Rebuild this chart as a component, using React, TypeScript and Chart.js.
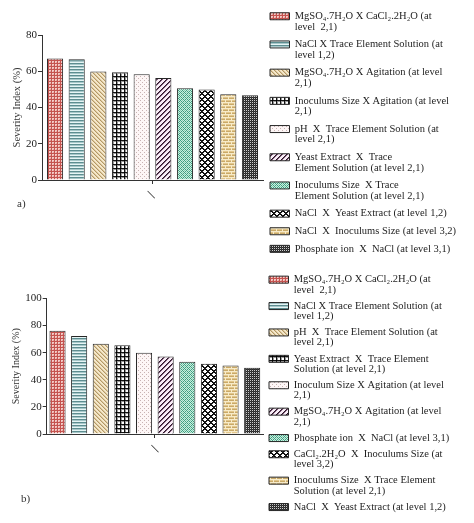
import React, { useEffect, useRef } from 'react';
import { Chart, registerables } from 'chart.js';

Chart.register(...registerables);

// ---------- data ----------
const categoryLabels = ['—'];
const yTitle = 'Severity Index (%)';
const yTicksStep = 20;

const valuesA = [67.1, 66.6, 59.8, 59.4, 58.3, 56.3, 50.6, 50.0, 47.3, 46.7];
const legendA = [
  ['MgSO₄.7H₂O X CaCl₂.2H₂O (at', 'level  2,1)'],
  ['NaCl X Trace Element Solution (at', 'level 1,2)'],
  ['MgSO₄.7H₂O X Agitation (at level', '2,1)'],
  ['Inoculums Size X Agitation (at level', '2,1)'],
  ['pH  X  Trace Element Solution (at', 'level 2,1)'],
  ['Yeast Extract  X  Trace', 'Element Solution (at level 2,1)'],
  ['Inoculums Size  X Trace', 'Element Solution (at level 2,1)'],
  ['NaCl  X  Yeast Extract (at level 1,2)'],
  ['NaCl  X  Inoculums Size (at level 3,2)'],
  ['Phosphate ion  X  NaCl (at level 3,1)'],
];
const yMaxA = 80;

const valuesB = [76.1, 72.3, 66.5, 65.4, 59.9, 57.2, 53.3, 51.8, 50.6, 48.9];
const legendB = [
  ['MgSO₄.7H₂O X CaCl₂.2H₂O (at', 'level  2,1)'],
  ['NaCl X Trace Element Solution (at', 'level 1,2)'],
  ['pH  X  Trace Element Solution (at', 'level 2,1)'],
  ['Yeast Extract  X  Trace Element', 'Solution (at level 2,1)'],
  ['Inoculum Size X Agitation (at level', '2,1)'],
  ['MgSO₄.7H₂O X Agitation (at level', '2,1)'],
  ['Phosphate ion  X  NaCl (at level 3,1)'],
  ['CaCl₂.2H₂O  X  Inoculums Size (at', 'level 3,2)'],
  ['Inoculums Size  X Trace Element', 'Solution (at level 2,1)'],
  ['NaCl  X  Yeast Extract (at level 1,2)'],
];
const yMaxB = 100;

const patternKinds = ['redGrid', 'tealH', 'tanDiag', 'grid', 'dots', 'diagThick', 'green', 'diamond', 'brick', 'dark'];

// ---------- patterns ----------
function makePattern(kind: string): CanvasPattern | string {
  const c = document.createElement('canvas');
  let size = 4;
  const draw: Array<[number, number, string]> = [];
  let bg = '#ffffff';
  const setPx = (x: number, y: number, col: string) => draw.push([x, y, col]);
  switch (kind) {
    case 'redGrid':
      size = 3; bg = '#f3cbc7';
      for (let i = 0; i < 3; i++) { setPx(0, i, '#c4534f'); setPx(i, 0, '#c4534f'); }
      setPx(2, 2, '#e6a09c');
      break;
    case 'tealH':
      size = 3; bg = '#e6f5f5';
      for (let i = 0; i < 3; i++) { setPx(i, 0, '#5d8d90'); setPx(i, 1, '#a7c7c9'); }
      break;
    case 'tanDiag':
      size = 4; bg = '#f5e8cb';
      for (let y = 0; y < 4; y++) for (let x = 0; x < 4; x++) {
        const d = (x - y + 8) % 4;
        if (d === 0) setPx(x, y, '#b39866');
        else if (d === 1) setPx(x, y, '#dcc89e');
      }
      break;
    case 'grid':
      size = 4; bg = '#ffffff';
      for (let i = 0; i < 4; i++) { setPx(0, i, '#111'); setPx(i, 0, '#111'); setPx(1, i, '#9a9a9a'); setPx(i, 1, '#9a9a9a'); }
      setPx(0, 0, '#000'); setPx(1, 0, '#111'); setPx(0, 1, '#111');
      break;
    case 'dots':
      size = 4; bg = '#fdf6f6';
      setPx(0, 0, '#c8b2b2'); setPx(2, 2, '#c8b2b2');
      break;
    case 'diagThick':
      size = 5; bg = '#f9edf7';
      for (let y = 0; y < 5; y++) for (let x = 0; x < 5; x++) {
        const d = (x + y) % 5;
        if (d === 0) setPx(x, y, '#2b1628');
        else if (d === 1) setPx(x, y, '#7a5873');
      }
      break;
    case 'green':
      size = 4; bg = '#c9eee0';
      for (let y = 0; y < 4; y++) for (let x = 0; x < 4; x++) {
        if ((x + y) % 4 === 0 || (x - y + 8) % 4 === 0) setPx(x, y, '#3f9e80');
        else if ((x + y) % 2 === 0) setPx(x, y, '#86cbb0');
      }
      break;
    case 'diamond':
      size = 6; bg = '#ffffff';
      for (let y = 0; y < 6; y++) for (let x = 0; x < 6; x++) {
        const a = (x + y) % 6; const b = (x - y + 12) % 6;
        if (a === 0 || b === 0) setPx(x, y, '#000');
        else if (a === 1 || b === 1) setPx(x, y, '#262626');
      }
      break;
    case 'brick':
      size = 6; bg = '#e2c68b';
      for (let x = 0; x < 6; x++) { setPx(x, 0, '#f7ebc9'); setPx(x, 3, '#f7ebc9'); setPx(x, 2, '#c9a968'); setPx(x, 5, '#c9a968'); }
      setPx(0, 1, '#f7ebc9'); setPx(0, 2, '#f7ebc9'); setPx(3, 4, '#f7ebc9'); setPx(3, 5, '#f7ebc9');
      break;
    case 'dark':
      size = 2; bg = '#2a2a2a';
      setPx(0, 0, '#cdcdcd'); setPx(1, 1, '#3c3c3c');
      break;
  }
  c.width = size; c.height = size;
  const ctx = c.getContext('2d');
  if (!ctx) return bg;
  ctx.fillStyle = bg;
  ctx.fillRect(0, 0, size, size);
  for (const [x, y, col] of draw) { ctx.fillStyle = col; ctx.fillRect(x, y, 1, 1); }
  const p = ctx.createPattern(c, 'repeat');
  return p || bg;
}

// ---------- panel ----------
type PanelProps = {
  top: number;
  height: number;
  values: number[];
  legend: string[][];
  yMax: number;
  padTop: number;
  titleBottom: number;
  yWidth: number;
  xHeight: number;
  catPct: number;
  labelOffset: number;
  legendLine: number;
  legendPad: number;
  yTitleSize: number;
};

const FONT = 'Liberation Serif';

function Panel(props: PanelProps) {
  const ref = useRef<HTMLCanvasElement | null>(null);
  useEffect(() => {
    if (!ref.current) return;
    const legendWidth = 211;
    const legendWidthPlugin = {
      id: 'legendWidthFix',
      beforeInit(chart: any) {
        const lg = chart.legend;
        if (!lg) return;
        const orig = lg.fit;
        lg.fit = function () {
          orig.call(this);
          this.width = legendWidth;
        };
      },
    };
    const patterns = patternKinds.map(makePattern);
    const { legend } = props;
    const chart = new Chart(ref.current, {
      type: 'bar',
      data: {
        labels: categoryLabels,
        datasets: props.values.map((v, i) => ({
          label: legend[i].join(' '),
          data: [v],
          backgroundColor: patterns[i] as any,
          borderColor: '#262626',
          borderWidth: 1,
          barPercentage: 0.745,
          categoryPercentage: props.catPct,
        })),
      },
      options: {
        responsive: false,
        animation: false,
        events: [],
        layout: { padding: { top: props.padTop, left: 0, right: 0, bottom: 0 } },
        plugins: {
          title: {
            display: true,
            text: '',
            fullSize: false,
            padding: { top: 0, bottom: props.titleBottom },
            font: { size: 10, lineHeight: 1.2 },
          },
          tooltip: { enabled: false },
          legend: {
            position: 'right',
            align: 'start',
            labels: {
              boxWidth: 19.5,
              boxHeight: 7,
              padding: props.legendPad,
              color: '#1e1e1e',
              font: { family: FONT, size: 10.5, lineHeight: props.legendLine / 10.5 },
              generateLabels: (ch: any) =>
                (Chart.defaults.plugins.legend.labels.generateLabels as any)(ch).map((it: any, i: number) => ({
                  ...it,
                  text: legend[i],
                })),
            },
          },
        },
        scales: {
          x: {
            grid: {
              display: true,
              drawOnChartArea: false,
              drawTicks: true,
              tickLength: 4,
              offset: false,
              color: '#333',
            },
            border: { display: true, color: '#333', width: 1 },
            ticks: {
              minRotation: -45,
              maxRotation: -45,
              padding: 9.8,
              labelOffset: props.labelOffset,
              color: '#222',
              font: { family: FONT, size: 10, weight: 'bold', lineHeight: 1.2 },
            },
            afterFit: (s: any) => {
              s.height = props.xHeight;
            },
          },
          y: {
            min: 0,
            max: props.yMax,
            ticks: {
              stepSize: yTicksStep,
              padding: 1,
              color: '#222',
              font: { family: FONT, size: 11 },
            },
            grid: {
              display: true,
              drawOnChartArea: false,
              drawTicks: true,
              tickLength: 4,
              color: '#333',
            },
            border: { display: true, color: '#333', width: 1 },
            title: {
              display: true,
              text: yTitle,
              color: '#333',
              font: { family: FONT, size: props.yTitleSize, lineHeight: 1.2 },
              padding: { top: 10.7, bottom: 0 },
            },
            afterFit: (s: any) => {
              s.width = props.yWidth;
            },
          },
        },
      } as any,
      plugins: [legendWidthPlugin],
    });
    return () => chart.destroy();
  }, []);
  return (
    <canvas
      ref={ref}
      width={474}
      height={props.height}
      style={{ position: 'absolute', left: 0, top: props.top, width: 474, height: props.height }}
    />
  );
}

export default function App() {
  const labelStyle: React.CSSProperties = {
    position: 'absolute',
    fontFamily: FONT,
    fontSize: 11,
    lineHeight: '11px',
    color: '#333',
  };
  return (
    <div style={{ position: 'absolute', left: 0, top: 0, width: 474, height: 523, background: '#fff', overflow: 'hidden' }}>
      <Panel
        top={0}
        height={268}
        values={valuesA}
        legend={legendA}
        yMax={yMaxA}
        padTop={4}
        titleBottom={19}
        yWidth={42}
        xHeight={88}
        catPct={0.98}
        labelOffset={2.5}
        legendLine={10.6}
        legendPad={7}
        yTitleSize={10.5}
      />
      <Panel
        top={260}
        height={263}
        values={valuesB}
        legend={legendB}
        yMax={yMaxB}
        padTop={8.4}
        titleBottom={18}
        yWidth={46.7}
        xHeight={89}
        catPct={1.0}
        labelOffset={3.7}
        legendLine={10.2}
        legendPad={6}
        yTitleSize={10}
      />
      <div style={{ ...labelStyle, left: 17, top: 198 }}>a)</div>
      <div style={{ ...labelStyle, left: 21, top: 493 }}>b)</div>
    </div>
  );
}
